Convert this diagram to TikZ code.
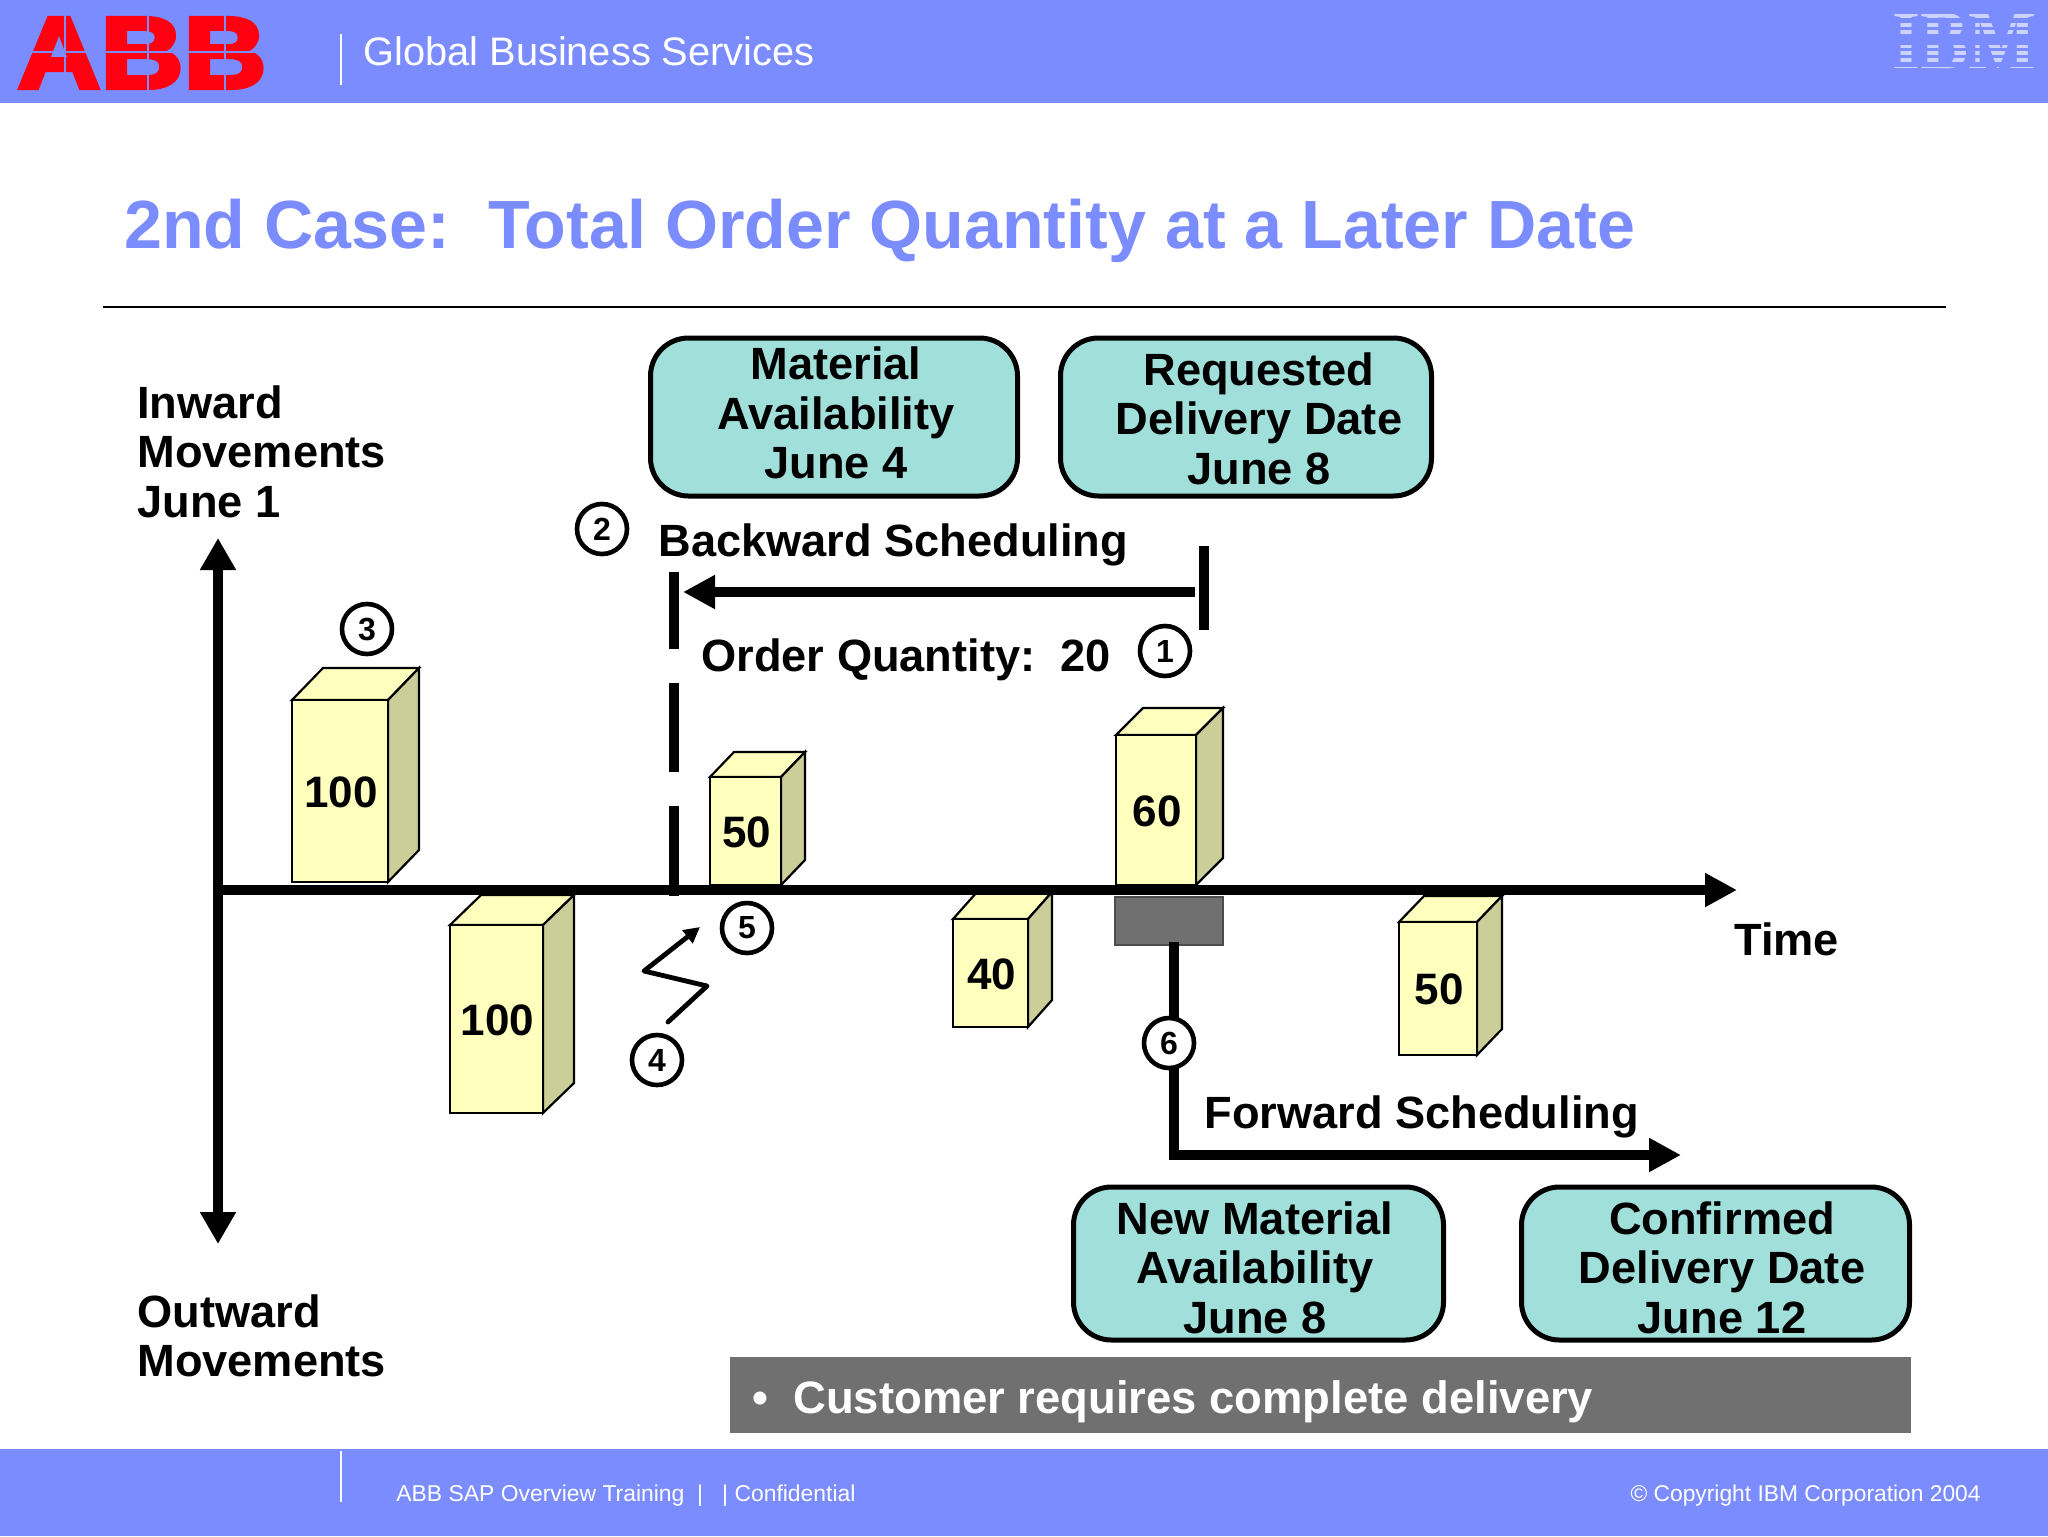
\documentclass[tikz,border=0pt]{standalone}
\usepackage{fontspec}
\usepackage{graphicx}
\setmainfont{Liberation Sans}
\newfontfamily\abbfont[FakeBold=4]{Liberation Sans Bold}
\newfontfamily\ibmfont{Liberation Serif Bold}
\usetikzlibrary{arrows.meta,calc,shapes.geometric}
\definecolor{bandblue}{HTML}{7B8CFF}
\definecolor{tealbox}{HTML}{A1DFDB}
\definecolor{cubefront}{HTML}{FFFFBE}
\definecolor{cubeside}{HTML}{CBCE98}
\definecolor{barGray}{HTML}{707070}
\definecolor{ibmwhite}{HTML}{CCD3FF}
\definecolor{abbred}{HTML}{FF0010}
\tikzset{
  band/.style={fill=bandblue,draw=none},
  teal/.style={draw=black,line width=2.5pt,fill=tealbox,rounded corners=19pt,inner sep=0pt},
  tealtext/.style={inner sep=0pt,align=center,font=\bfseries\fontsize{22.6}{24.7}\selectfont},
  bigtext/.style={anchor=base west,inner sep=0pt,font=\bfseries\fontsize{22.6}{24.7}\selectfont,align=left},
  numtext/.style={inner sep=0pt,font=\bfseries\fontsize{22}{24.7}\selectfont},
  facefront/.style={draw=black,line width=1.1pt,fill=cubefront,line join=miter},
  faceside/.style={draw=black,line width=1.1pt,fill=cubeside,line join=miter},
  badge/.style={circle,draw=black,line width=2.3pt,fill=white,minimum size=25pt,inner sep=0pt,
    font=\bfseries\fontsize{16}{18}\selectfont},
  heavy/.style={line width=5.2pt,line cap=butt},
  whitetext/.style={anchor=base west,inner sep=0pt,text=white},
}
% x1 y1 x2 y2 dx dy label name
\newcommand{\cuboid}[8]{%
  \draw[facefront] (#1,#2) -- (#1+#5,#2-#6) -- (#3+#5,#2-#6) -- (#3,#2) -- cycle;
  \draw[faceside] (#3,#2) -- (#3+#5,#2-#6) -- (#3+#5,#4-#6) -- (#3,#4) -- cycle;
  \draw[facefront] (#1,#2) rectangle (#3,#4);
  \node[numtext] (#8) at ({(#1+#3)/2+1},{(#2+#4)/2+1}) {#7};
}
\begin{document}
\begin{tikzpicture}[x=0.5pt,y=-0.5pt]
\useasboundingbox (0,0) rectangle (2048,1536);
\fill[white] (0,0) rectangle (2048,1536);
% bands
\path[band] (0,0) rectangle (2048,103);
\path[band] (0,1449) rectangle (2048,1536);
% ABB logo
\node[inner sep=0pt,anchor=center,text=abbred] (abb) at (142,53) {\resizebox{124.5pt}{35pt}{\abbfont ABB}};
\foreach \xs in {65,148,225}{\draw[bandblue,line width=0.7pt] (\xs,15) -- (\xs,92);}
\draw[bandblue,line width=0.8pt] (10,52) -- (270,52);
% header text
\draw[white,line width=0.8pt] (341,34) -- (341,85);
\node[whitetext,font=\fontsize{19.9}{24}\selectfont] (gbs) at (363,66) {Global Business Services};
% IBM logo
\node[inner sep=0pt,anchor=center,text=ibmwhite] (ibm) at (1964,41.5) {\resizebox{72pt}{27.5pt}{\ibmfont IBM}};
\foreach \ya/\yb in {12/14,18.5/23.5,27.5/30,34/45,48.5/51.5,55.5/58.5,62.5/67.5}{\fill[bandblue] (1885,\ya) rectangle (2042,\yb);}
% title
\node[anchor=base west,inner sep=0pt,text=bandblue,font=\bfseries\fontsize{34.1}{38}\selectfont] (title) at (124,248) {2nd Case:\ \ Total Order Quantity at a Later Date};
\coordinate (ruleL) at (103,307);
\coordinate (ruleR) at (1946,307);
\draw[black,line width=1pt] (ruleL) -- (ruleR);
% teal boxes
\node[teal,minimum width=183.5pt,minimum height=79pt] (mat) at (834,417) {};
\node[tealtext] (matT) at (836,413) {Material\\Availability\\June 4};
\node[teal,minimum width=185.5pt,minimum height=79pt] (req) at (1246,417) {};
\node[tealtext] (reqT) at (1259,418.5) {Requested\\Delivery Date\\June 8};
\node[teal,minimum width=185pt,minimum height=76.5pt] (newmat) at (1258.5,1263.5) {};
\node[tealtext] (newmatT) at (1255,1267.5) {New Material\\Availability\\June 8};
\node[teal,minimum width=194pt,minimum height=76.5pt] (conf) at (1715.5,1263.5) {};
\node[tealtext] (confT) at (1722,1267.5) {Confirmed\\Delivery Date\\June 12};
% axis labels
\node[bigtext] (inward) at (137,418.5) {Inward};
\node[bigtext] (inward2) at (137,467.5) {Movements};
\node[bigtext] (inward3) at (137,517) {June 1};
\node[bigtext] (outward) at (137,1327) {Outward};
\node[bigtext] (outward2) at (137,1376.5) {Movements};
\node[bigtext] (time) at (1734,955) {Time};
\node[bigtext] (bsched) at (658,556) {Backward Scheduling};
\node[bigtext] (oqty) at (701,671) {Order Quantity:\ \ 20};
\node[bigtext] (fsched) at (1204,1128) {Forward Scheduling};
% cuboids
\cuboid{292}{700}{388}{882}{31}{32}{100}{c1}
\cuboid{450}{925}{543}{1113}{31}{30}{100}{c2}
\cuboid{710}{777}{781}{885}{24}{25}{50}{c3}
\cuboid{1116}{735}{1196}{885}{27}{27}{60}{c4}
\cuboid{953}{919}{1028}{1027}{24}{27}{40}{c5}
\cuboid{1399}{922}{1477}{1055}{25}{26}{50}{c6}
% gray box under the axis
\node[draw=black!70,line width=1pt,fill=barGray,minimum width=54pt,minimum height=24pt,inner sep=0pt] (gray) at (1169,921) {};
% axes
\coordinate (ytop) at (218,538);
\coordinate (ybot) at (218,1244);
\coordinate (xorg) at (218,890);
\coordinate (xend) at (1737,890);
\draw[line width=5pt,{Triangle[length=16pt,width=17pt]}-{Triangle[length=16pt,width=17pt]}] (ytop) -- (ybot);
\draw[line width=5.4pt,-{Triangle[length=16pt,width=16pt]}] (xorg) -- (xend);
% dashed line
\coordinate (dashtop) at (674,572);
\coordinate (dashbot) at (674,896);
\draw[heavy,dash pattern=on 38.5pt off 17pt on 44.5pt off 17pt on 45pt off 20pt] (dashtop) -- (dashbot);
% backward scheduling
\coordinate (ticktop) at (1204,546);
\coordinate (tickbot) at (1204,630);
\draw[heavy] (ticktop) -- (tickbot);
\coordinate (bstart) at (1195,592);
\coordinate (bend) at (683,592);
\draw[line width=5pt,-{Triangle[length=16pt,width=16pt]}] (bstart) -- (bend);
% forward scheduling
\coordinate (fstart) at (1174,942);
\coordinate (fcorner) at (1174,1155);
\coordinate (fend) at (1681,1155);
\draw[line width=5.2pt,line join=miter,-{Triangle[length=16pt,width=16pt]}] (fstart) -- (fcorner) -- (fend);
% zigzag
\coordinate (z0) at (668,1022);
\coordinate (z1) at (707,986);
\coordinate (z2) at (644,971);
\coordinate (z3) at (700,927);
\draw[line width=2.4pt,line cap=round,line join=round,-{Triangle[length=8pt,width=8pt]}] (z0) -- (z1) -- (z2) -- (z3);
% badges
\node[badge] (b1) at (1165,651) {1};
\node[badge] (b2) at (602,529) {2};
\node[badge] (b3) at (367,629) {3};
\node[badge] (b4) at (657,1060) {4};
\node[badge] (b5) at (747,928) {5};
\node[badge] (b6) at (1169,1043) {6};
% bottom bar
\node[fill=barGray,minimum width=590.5pt,minimum height=38pt,inner sep=0pt] (bar) at (1320.5,1395) {};
\node[whitetext,font=\bfseries\fontsize{22.7}{27}\selectfont] (bullet) at (752,1413) {•};
\node[whitetext,font=\bfseries\fontsize{22.7}{27}\selectfont] (cust) at (793,1413) {Customer requires complete delivery};
% footer
\draw[white,line width=0.8pt] (341,1451) -- (341,1502);
\node[whitetext,font=\fontsize{11.45}{14}\selectfont] (foot1) at (396,1501) {ABB SAP Overview Training \ |\ \ \ | Confidential};
\node[anchor=base east,inner sep=0pt,text=white,font=\fontsize{11.4}{14}\selectfont] (foot2) at (1981,1501) {© Copyright IBM Corporation 2004};
\end{tikzpicture}
\end{document}
